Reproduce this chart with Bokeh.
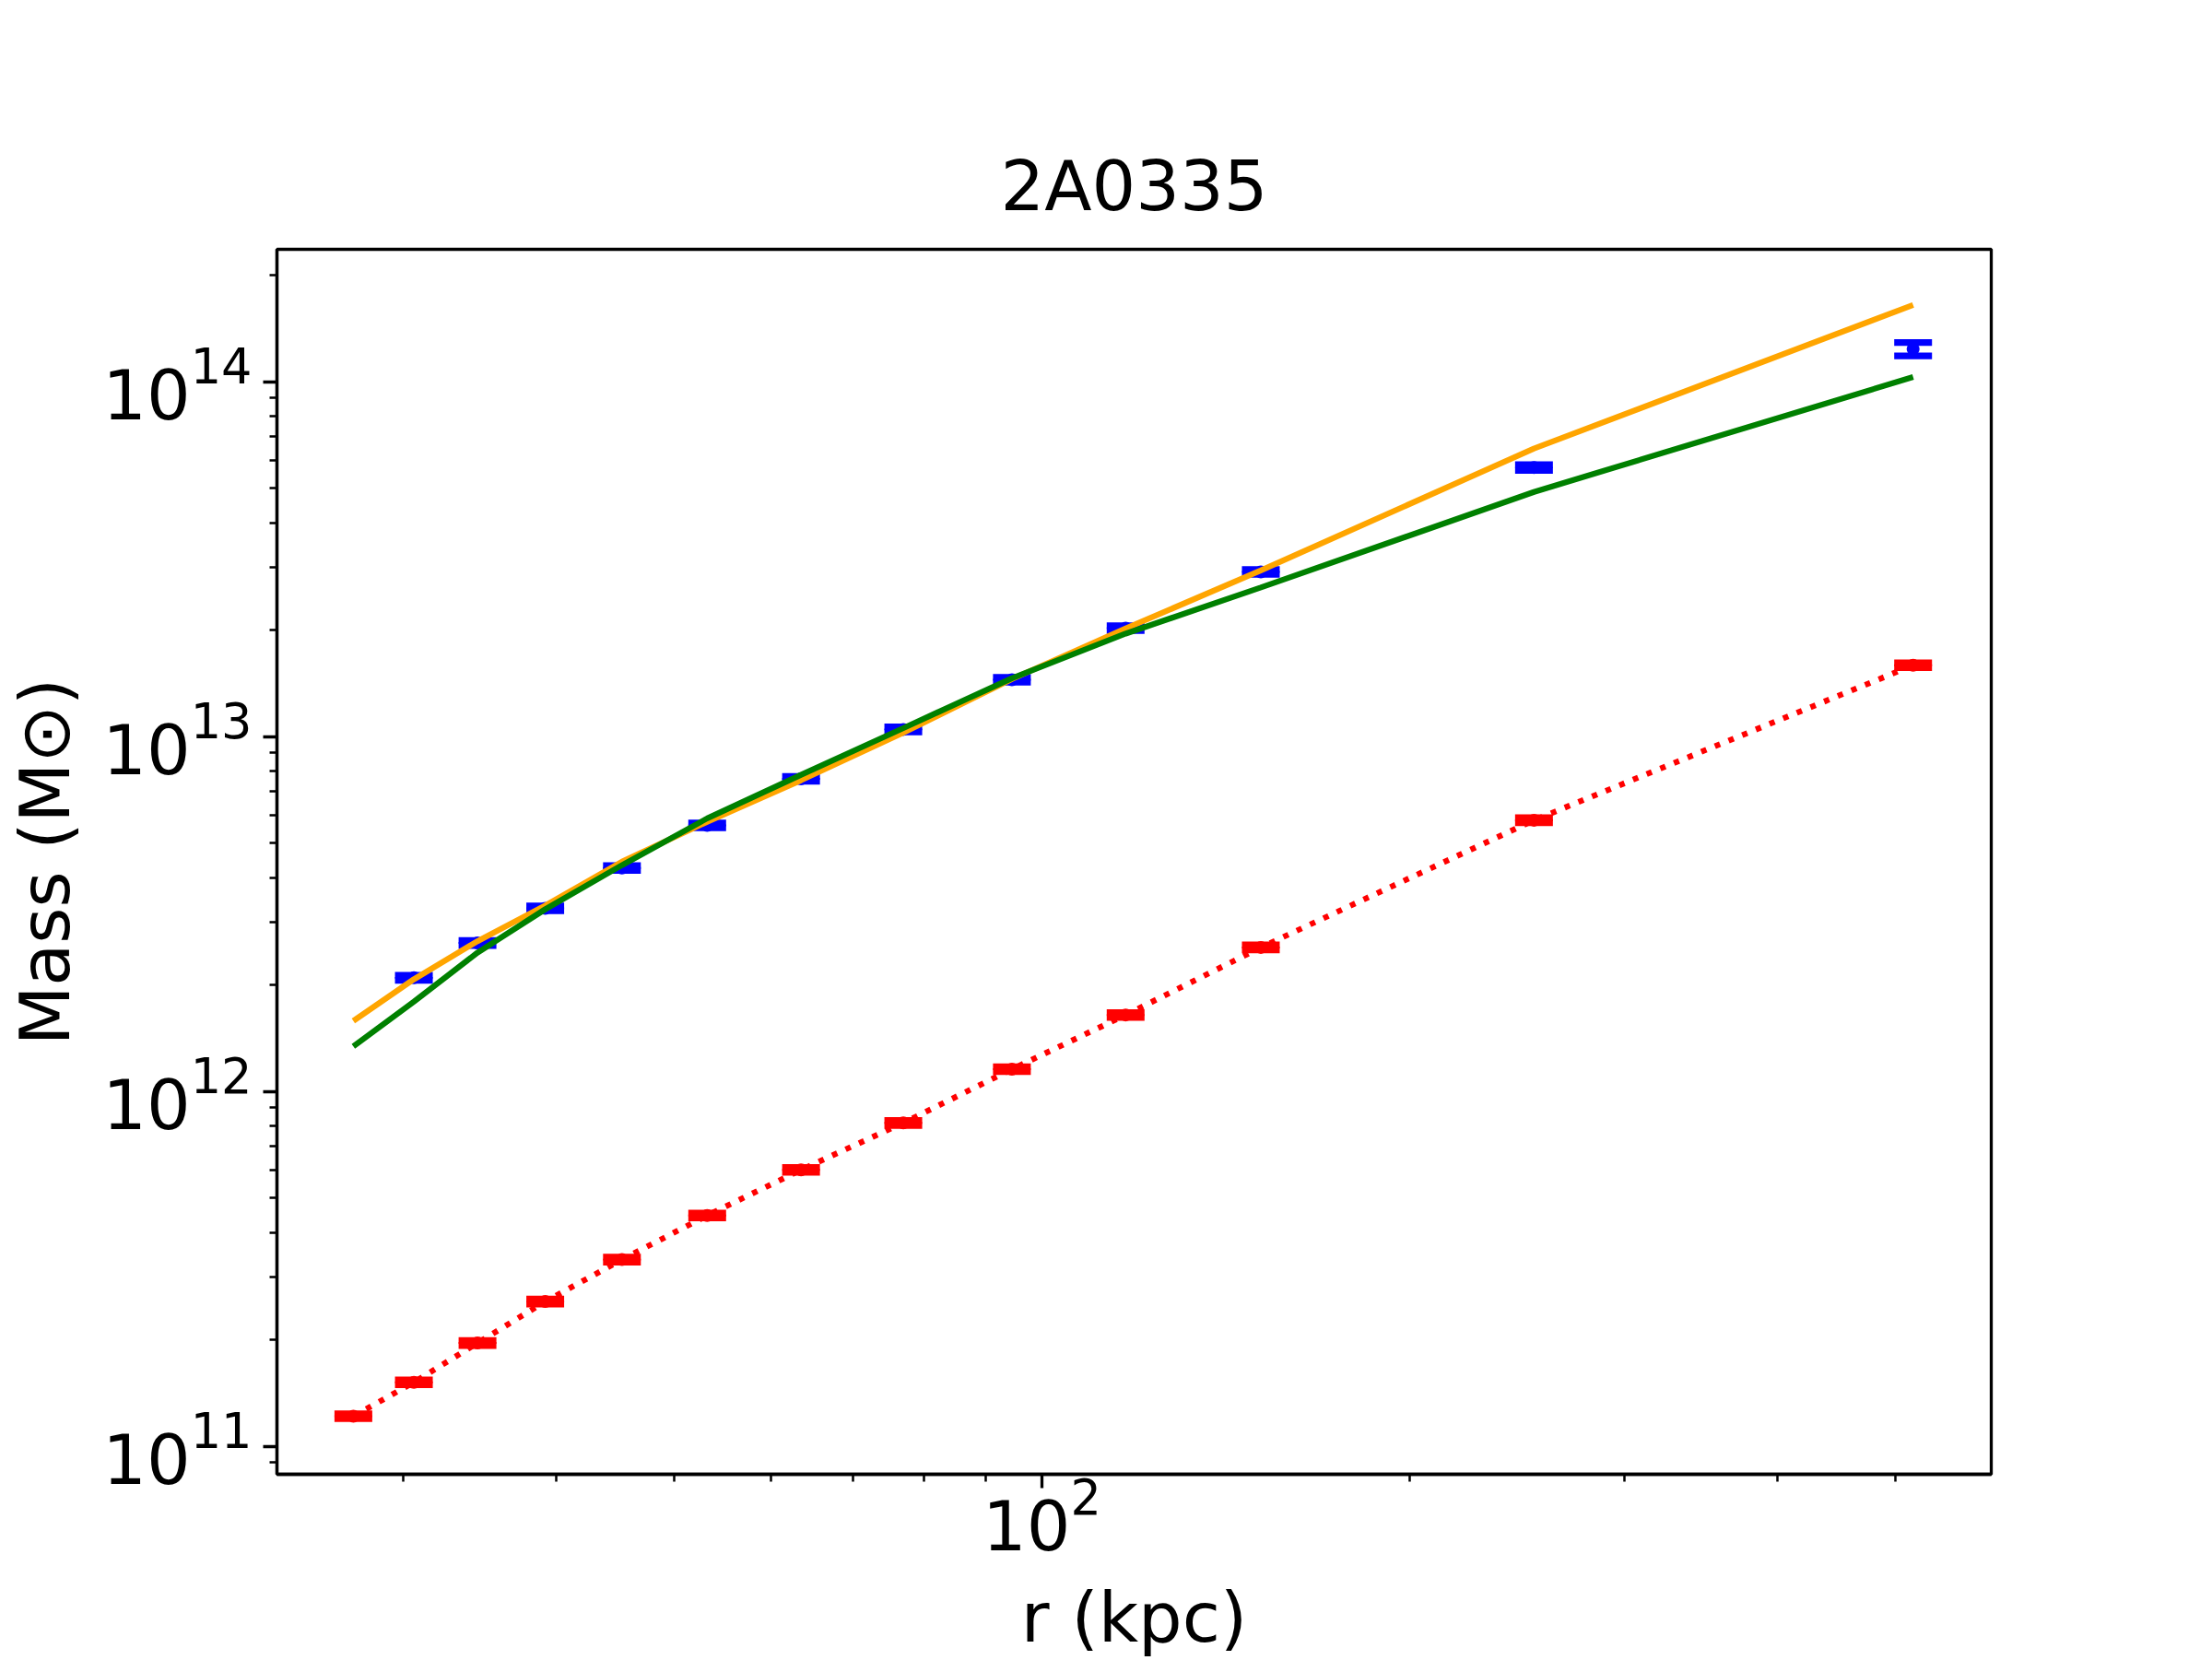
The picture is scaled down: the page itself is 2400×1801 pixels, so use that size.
import numpy as np
from bokeh.plotting import figure
from bokeh.models import Range1d, FixedTicker, Whisker, TeeHead, ColumnDataSource
from bokeh.embed import file_html
from bokeh.resources import INLINE

# ---- data ----
r_kpc = [27.3, 30.6, 34.5, 39.2, 45.3, 53.2, 63.5, 77.0, 94.5, 117.1, 151.1, 252.9, 516.9]

# total (hydrostatic) mass, blue points (no point at the first radius)
r_tot = [30.6, 34.5, 39.2, 45.3, 53.2, 63.5, 77.0, 94.5, 117.1, 151.1, 252.9, 516.9]
m_tot = [2.09e12, 2.62e12, 3.28e12, 4.26e12, 5.62e12, 7.60e12, 1.047e13, 1.446e13,
         2.02e13, 2.91e13, 5.73e13, 1.236e14]
m_tot_err = [3.4e10, 4.2e10, 5.2e10, 6.8e10, 9.0e10, 1.2e11, 1.7e11, 2.3e11,
             3.2e11, 4.7e11, 1.1e12, 5.4e12]

# gas mass, red points
m_gas = [1.215e11, 1.514e11, 1.954e11, 2.557e11, 3.357e11, 4.47e11, 6.01e11, 8.15e11,
         1.155e12, 1.642e12, 2.545e12, 5.81e12, 1.588e13]
m_gas_err = [1.9e9, 2.4e9, 3.1e9, 4.1e9, 5.4e9, 7.2e9, 9.6e9, 1.3e10,
             1.8e10, 2.6e10, 4.1e10, 9.3e10, 2.5e11]

# model curves
m_model_orange = [1.58e12, 2.07e12, 2.65e12, 3.34e12, 4.44e12, 5.75e12, 7.53e12, 1.025e13,
                  1.452e13, 2.015e13, 2.94e13, 6.48e13, 1.645e14]
m_model_green = [1.34e12, 1.79e12, 2.46e12, 3.26e12, 4.34e12, 5.88e12, 7.80e12, 1.056e13,
                 1.46e13, 1.95e13, 2.63e13, 4.89e13, 1.031e14]

x_major = [100]
x_minor = [30, 40, 50, 60, 70, 80, 90, 200, 300, 400, 500]
y_major = [1e11, 1e12, 1e13, 1e14]
y_minor = [m * 10.0**e for e in (10, 11, 12, 13, 14) for m in range(2, 10)]

title_text = "2A0335"
xlabel_text = "r (kpc)"
ylabel_text = "Mass (M\u2299)"

FONT = "DejaVu Sans"

p = figure(width=2400, height=1801, x_axis_type="log", y_axis_type="log",
           x_range=Range1d(10**1.3736, 10**2.7774),
           y_range=Range1d(10**10.921, 10**14.373),
           output_backend="svg", toolbar_location=None,
           min_border_left=300, min_border_right=240,
           min_border_top=270, min_border_bottom=200,
           title=title_text)

p.background_fill_color = "white"
p.border_fill_color = "white"
p.xgrid.visible = False
p.ygrid.visible = False
p.outline_line_color = "black"
p.outline_line_width = 3.3
p.outline_line_alpha = 1.0

p.title.text_font = FONT
p.title.text_font_size = "75px"
p.title.text_font_style = "normal"
p.title.align = "center"
p.title.text_color = "black"
p.title.standoff = 50

for ax in (p.xaxis[0], p.yaxis[0]):
    ax.axis_line_width = 3.3
    ax.major_tick_line_width = 3.3
    ax.minor_tick_line_width = 2.5
    ax.major_tick_out = 15
    ax.major_tick_in = 0
    ax.minor_tick_out = 8
    ax.minor_tick_in = 0
    ax.major_label_text_font = FONT
    ax.major_label_text_font_size = "75px"
    ax.major_label_text_color = "black"
    ax.axis_label_text_font = FONT
    ax.axis_label_text_font_size = "75px"
    ax.axis_label_text_font_style = "normal"
    ax.axis_label_text_color = "black"

p.yaxis[0].major_label_standoff = 12
p.xaxis[0].major_label_standoff = -14
p.xaxis[0].ticker = FixedTicker(ticks=x_major, minor_ticks=x_minor)
p.yaxis[0].ticker = FixedTicker(ticks=y_major, minor_ticks=y_minor)
p.xaxis[0].axis_label = xlabel_text
p.xaxis[0].axis_label_standoff = 26
p.yaxis[0].axis_label = ylabel_text
p.yaxis[0].axis_label_standoff = 15

# ---- error bars ----
src_tot = ColumnDataSource(dict(r=r_tot, m=m_tot,
                                up=np.array(m_tot) + np.array(m_tot_err),
                                lo=np.array(m_tot) - np.array(m_tot_err)))
src_gas = ColumnDataSource(dict(r=r_kpc, m=m_gas,
                                up=np.array(m_gas) + np.array(m_gas_err),
                                lo=np.array(m_gas) - np.array(m_gas_err)))

for src, col in ((src_tot, "blue"), (src_gas, "red")):
    w = Whisker(source=src, base="r", upper="up", lower="lo", dimension="height",
                line_color=col, line_width=6,
                upper_head=TeeHead(size=41, line_width=7.3, line_color=col),
                lower_head=TeeHead(size=41, line_width=7.3, line_color=col))
    p.add_layout(w)

p.scatter("r", "m", source=src_tot, size=14, color="blue", line_width=0)
p.scatter("r", "m", source=src_gas, size=14, color="red", line_width=0)
p.line(r_kpc, m_gas, line_color="red", line_width=6.25, line_dash="6 10")
p.line(r_kpc, m_model_orange, line_color="orange", line_width=6.25)
p.line(r_kpc, m_model_green, line_color="green", line_width=6.25)

open("out.html", "w").write(file_html(p, INLINE))
